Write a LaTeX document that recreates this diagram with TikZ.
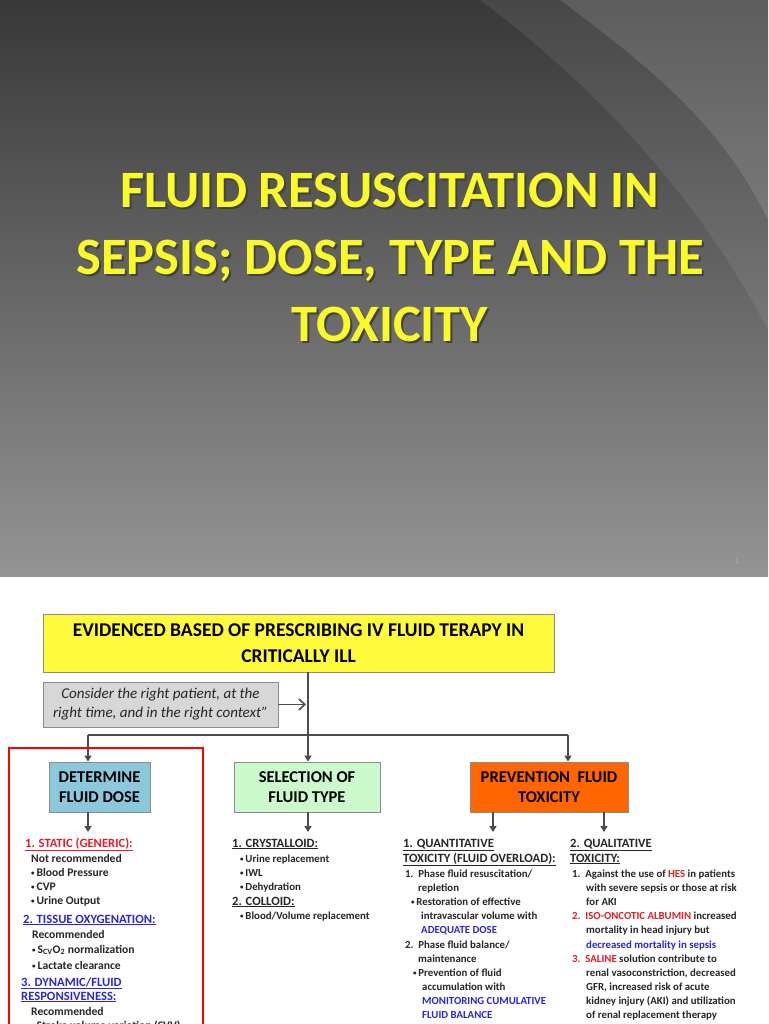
\documentclass[tikz,border=0pt]{standalone}
\usepackage{fontspec}
\setmainfont{Carlito}
\usetikzlibrary{arrows.meta}
\definecolor{ttl}{RGB}{250,250,40}
\definecolor{rd}{RGB}{225,30,40}
\definecolor{bl}{RGB}{40,40,215}
\definecolor{ybox}{RGB}{255,250,60}
\definecolor{gbox}{RGB}{215,215,215}
\definecolor{cbox}{RGB}{140,200,220}
\definecolor{grn}{RGB}{205,250,205}
\definecolor{org}{RGB}{255,102,0}
\newcommand{\bt}{{\fontsize{7}{8}\selectfont\raisebox{0.25ex}{•}}\,}
\tikzset{
  box/.style={draw=black!45,line width=0.9pt,align=center,font=\bfseries\fontsize{16.5}{20}\selectfont,inner sep=0pt},
  conn/.style={draw=black!70,line width=1.6pt},
  arr/.style={conn,-{Triangle[length=6pt,width=7pt]}},
  tl/.style={anchor=base west,inner sep=0pt,font=\bfseries\fontsize{10.8}{12}\selectfont,text=black!85},
  tll/.style={tl,font=\bfseries\fontsize{11.6}{12}\selectfont},
  hd/.style={tl,font=\bfseries\fontsize{12.6}{14}\selectfont},
  ttlf/.style={font=\bfseries\fontsize{52.5}{67}\selectfont,align=center}
}
\begin{document}
\begin{tikzpicture}[x=1pt,y=-1pt]
\useasboundingbox (0,0) rectangle (768,1024);
\clip (0,0) rectangle (768,1024);
\fill[white] (0,0) rectangle (768,1024);
% slide background
\shade[top color=black!78,bottom color=black!42] (0,0) rectangle (768,576);
\fill[white,opacity=0.12] (560,0) .. controls (640,60) and (720,120) .. (768,220) -- (768,0) -- cycle;
\fill[white,opacity=0.08] (480,0) .. controls (600,90) and (700,200) .. (768,330) -- (768,0) -- cycle;
\node[ttlf,text=black!75] (tshadow) at (392,259) {FLUID RESUSCITATION IN\\SEPSIS; DOSE, TYPE AND THE\\TOXICITY};
\node[ttlf,text=ttl] (title) at (390,257) {FLUID RESUSCITATION IN\\SEPSIS; DOSE, TYPE AND THE\\TOXICITY};
\node[font=\fontsize{8}{9}\selectfont,text=black!30] (pg) at (737,561) {1};
% flowchart
\node[box,fill=ybox,minimum width=511,minimum height=58,font=\bfseries\fontsize{19.5}{26}\selectfont] (main) at (298.5,643) {EVIDENCED BASED OF PRESCRIBING IV FLUID TERAPY IN\\CRITICALLY ILL};
\node[box,fill=gbox,minimum width=235,minimum height=45,font=\itshape\fontsize{15}{19}\selectfont,text=black!85] (ctx) at (160.5,704.5) {Consider the right patient, at the\\right time, and in the right context”};
\node[box,fill=cbox,minimum width=101,minimum height=50] (dose) at (99.5,787) {DETERMINE\\FLUID DOSE};
\node[box,fill=grn,minimum width=146,minimum height=50] (type) at (307,787) {SELECTION OF\\FLUID TYPE};
\node[box,fill=org,minimum width=158,minimum height=50] (tox) at (549,787) {PREVENTION\ \ FLUID\\TOXICITY};
\coordinate (jn) at (308,735);
\coordinate (jl) at (88,735);
\coordinate (jr) at (568,735);
\coordinate (ctxend) at (306,704.5);
\draw[conn] (main.south -| jn) -- (jn);
\draw[arr,-{Straight Barb[length=6pt,width=11pt]}] (ctx.east) -- (ctxend);
\draw[conn] (jl) -- (jr);
\draw[arr] (jl) -- (dose.north -| jl);
\draw[arr] (jn) -- (type.north -| jn);
\draw[arr] (jr) -- (tox.north -| jr);
\draw[red,line width=2pt] (9,748) rectangle (203,1040);
\coordinate (dA) at (88,832); \coordinate (tA) at (308,832);
\coordinate (xA) at (493,832); \coordinate (xB) at (604,832);
\draw[arr] (dose.south -| dA) -- (dA);
\draw[arr] (type.south -| tA) -- (tA);
\draw[arr] (tox.south -| xA) -- (xA);
\draw[arr] (tox.south -| xB) -- (xB);
% left column
\node[hd,text=rd] (a1) at (25,847) {\underline{1. STATIC (GENERIC):}};
\node[tll] (a2) at (31,862) {Not recommended};
\node[tll] (a3) at (31,876) {\bt Blood Pressure};
\node[tll] (a4) at (31,890) {\bt CVP};
\node[tll] (a5) at (31,904) {\bt Urine Output};
\node[hd,text=bl] (a6) at (23,923) {\underline{2. TISSUE OXYGENATION:}};
\node[tll] (a7) at (32,938) {Recommended};
\node[tll] (a8) at (32,953) {\bt S\textsubscript{CV}O\textsubscript{2} normalization};
\node[tll] (a9) at (32,969) {\bt Lactate clearance};
\node[hd,text=bl] (a10) at (21,986) {\underline{3. DYNAMIC/FLUID}};
\node[hd,text=bl] (a11) at (21,1000) {\underline{RESPONSIVENESS:}};
\node[tll] (a12) at (31,1015) {Recommended};
\node[tll] (a13) at (31,1029) {\bt Stroke volume variation (SVV)};
% middle column
\node[hd] (b1) at (232,847) {\underline{1. CRYSTALLOID:}};
\node[tl] (b2) at (240,862) {\bt Urine replacement};
\node[tl] (b3) at (240,876) {\bt IWL};
\node[tl] (b4) at (240,890) {\bt Dehydration};
\node[hd] (b5) at (232,905) {\underline{2. COLLOID:}};
\node[tl] (b6) at (240,919) {\bt Blood/Volume replacement};
% right col 1
\node[hd] (c1) at (403,847) {\underline{1. QUANTITATIVE}};
\node[hd] (c2) at (403,862) {\underline{TOXICITY (FLUID OVERLOAD):}};
\node[tl] (c3) at (405,877) {1.\ \ Phase fluid resuscitation/};
\node[tl] (c4) at (418,891) {repletion};
\node[tl] (c5) at (411,905) {\bt Restoration of effective};
\node[tl] (c6) at (421,919) {intravascular volume with};
\node[tl,text=bl] (c7) at (421,933) {ADEQUATE DOSE};
\node[tl] (c8) at (405,948) {2.\ \ Phase fluid balance/};
\node[tl] (c9) at (418,962) {maintenance};
\node[tl] (c10) at (413,976) {\bt Prevention of fluid};
\node[tl] (c11) at (422,990) {accumulation with};
\node[tl,text=bl] (c12) at (422,1004) {MONITORING CUMULATIVE};
\node[tl,text=bl] (c13) at (422,1018) {FLUID BALANCE};
% right col 2
\node[hd] (d1) at (570,847) {\underline{2. QUALITATIVE}};
\node[hd] (d2) at (570,862) {\underline{TOXICITY:}};
\node[tl] (d3) at (572,877) {1.\ \ Against the use of \textcolor{rd}{HES} in patients};
\node[tl] (d4) at (586,891) {with severe sepsis or those at risk};
\node[tl] (d5) at (586,905) {for AKI};
\node[tl] (d6) at (572,919) {\textcolor{rd}{2.\ \ ISO-ONCOTIC ALBUMIN} increased};
\node[tl] (d7) at (586,933) {mortality in head injury but};
\node[tl,text=bl] (d8) at (586,948) {decreased mortality in sepsis};
\node[tl] (d9) at (572,962) {\textcolor{rd}{3.\ \ SALINE} solution contribute to};
\node[tl] (d10) at (586,976) {renal vasoconstriction, decreased};
\node[tl] (d11) at (586,990) {GFR, increased risk of acute};
\node[tl] (d12) at (586,1004) {kidney injury (AKI) and utilization};
\node[tl] (d13) at (586,1018) {of renal replacement therapy};
\end{tikzpicture}
\end{document}
